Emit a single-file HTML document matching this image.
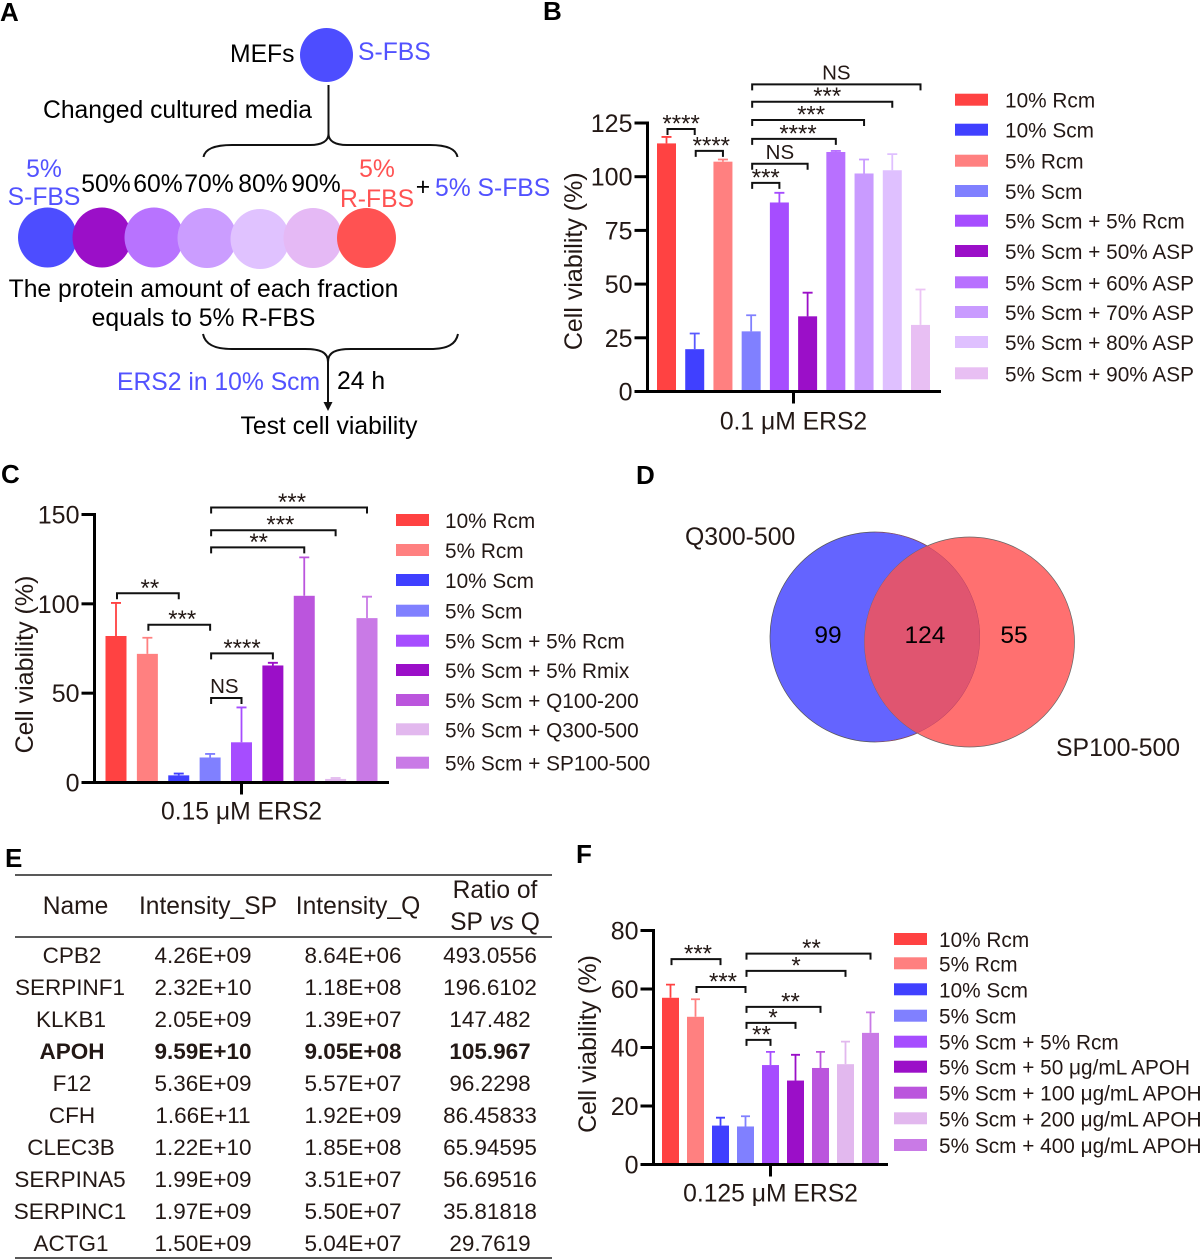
<!DOCTYPE html>
<html lang="en"><head><meta charset="utf-8"><title>Cell viability figure</title>
<style>
html,body{margin:0;padding:0;background:#fff}
svg{display:block}
text{font-family:"Liberation Sans",Arial,sans-serif;fill:#000}
.t{fill:#231815}
.panel{font-size:26px;font-weight:bold}
.tb{font-size:22.5px;text-anchor:middle;fill:#231815}
.th{font-size:24.6px;text-anchor:middle;fill:#231815}
.a{font-size:24.7px}
.bl{fill:#5252ff}
.rd{fill:#ff5252}
</style></head>
<body>
<svg id="fig" xmlns="http://www.w3.org/2000/svg" width="1200" height="1259" viewBox="0 0 1200 1259">
<rect width="1200" height="1259" fill="#fff"/>
<g>
<text class="panel" x="0" y="21">A</text>
<text class="panel" x="543" y="20">B</text>
<text class="panel" x="1" y="483">C</text>
<text class="panel" x="636" y="484">D</text>
<text class="panel" x="5" y="867">E</text>
<text class="panel" x="576" y="863">F</text>
</g>

<g id="panel-a">
<text class="a" x="230" y="62">MEFs</text>
<ellipse cx="326.5" cy="55" rx="26.500" ry="27" fill="#4d4dff"/>
<text class="a bl" x="358" y="60">S-FBS</text>
<text class="a" x="43" y="118">Changed cultured media</text>
<path d="M328.500 85V134C328.500 141 322 145 310 145H232C214 145 205 149 203.500 157M328.500 134C328.500 141 335 145 347 145H430C447 145 456 149 457.500 157" fill="none" stroke="#111" stroke-width="2"/>
<text class="a bl" x="44" y="177" text-anchor="middle">5%</text>
<text class="a bl" x="44" y="205" text-anchor="middle">S-FBS</text>
<text class="a" x="106" y="192" text-anchor="middle">50%</text>
<text class="a" x="158" y="192" text-anchor="middle">60%</text>
<text class="a" x="209" y="192" text-anchor="middle">70%</text>
<text class="a" x="263" y="192" text-anchor="middle">80%</text>
<text class="a" x="316" y="192" text-anchor="middle">90%</text>
<text class="a rd" x="377" y="177" text-anchor="middle">5%</text>
<text class="a rd" x="377" y="207" text-anchor="middle">R-FBS</text>
<text class="a" x="423" y="195" text-anchor="middle">+</text>
<text class="a bl" x="435" y="196">5% S-FBS</text>
<ellipse cx="47.5" cy="237.5" rx="29.5" ry="30" fill="#4d4dff"/>
<ellipse cx="102" cy="237.5" rx="29.5" ry="30" fill="#9b0fc8"/>
<ellipse cx="154" cy="237.5" rx="29.5" ry="30" fill="#b873ff"/>
<ellipse cx="207" cy="238" rx="29.5" ry="30" fill="#cb9dff"/>
<ellipse cx="260" cy="239" rx="29.5" ry="30" fill="#e0c2ff"/>
<ellipse cx="313" cy="238" rx="29.5" ry="30" fill="#e5b9f5"/>
<ellipse cx="366.5" cy="238" rx="29.5" ry="30" fill="#ff5252"/>
<text class="a" x="203.500" y="297" text-anchor="middle">The protein amount of each fraction</text>
<text class="a" x="203.500" y="326" text-anchor="middle">equals to 5% R-FBS</text>
<path d="M203 334C205 344 214 349 232 349H305C320 349 328 352 328 362M458 334C456 344 448 349 430 349H351C336 349 328 352 328 362V403" fill="none" stroke="#111" stroke-width="2"/>
<path d="M323.500 402H332.500L328 411Z" fill="#111"/>
<text class="a bl" x="117" y="390">ERS2 in 10% Scm</text>
<text class="a" x="337" y="389">24 h</text>
<text class="a" x="329" y="434" text-anchor="middle">Test cell viability</text>
</g>

<g id="panel-d">
<defs><clipPath id="venn-clip"><circle cx="875" cy="637" r="105"/></clipPath></defs>
<circle cx="875" cy="637" r="105" fill="#6464ff" stroke="#555" stroke-width="0.7"/>
<circle cx="969.500" cy="642" r="105" fill="#ff7070" stroke="#666" stroke-width="0.7"/>
<circle cx="969.500" cy="642" r="105" fill="#e05570" clip-path="url(#venn-clip)"/>
<path d="M875 532A105 105 0 0 1 875 742" transform="translate(0 0)" fill="none" stroke="#b04060" stroke-width="0.7" clip-path="url(#venn-clip)"/>
<text x="685" y="545" font-size="24.800" class="t">Q300-500</text>
<text x="1056" y="756" font-size="24.800" class="t">SP100-500</text>
<text x="828" y="643" font-size="24.500" text-anchor="middle" fill="#000">99</text>
<text x="925" y="643" font-size="24.500" text-anchor="middle" fill="#000">124</text>
<text x="1014" y="643" font-size="24.500" text-anchor="middle" fill="#000">55</text>
</g>

<g id="panel-e">
<line x1="15" x2="552" y1="875" y2="875" stroke="#222" stroke-width="1.500"/>
<line x1="15" x2="552" y1="937" y2="937" stroke="#222" stroke-width="1.500"/>
<line x1="15" x2="552" y1="1258" y2="1258" stroke="#222" stroke-width="1.500"/>
<g>
<text class="th" x="75.500" y="914">Name</text>
<text class="th" x="208" y="914">Intensity_SP</text>
<text class="th" x="358" y="914">Intensity_Q</text>
<text class="th" x="495" y="898">Ratio of</text>
<text class="th" x="495" y="930">SP <tspan font-style="italic">vs</tspan> Q</text>
</g>
<g><text class="tb" x="72" y="963">CPB2</text><text class="tb" x="203" y="963">4.26E+09</text><text class="tb" x="353" y="963">8.64E+06</text><text class="tb" x="490" y="963">493.0556</text></g>
<g><text class="tb" x="70" y="995">SERPINF1</text><text class="tb" x="203" y="995">2.32E+10</text><text class="tb" x="353" y="995">1.18E+08</text><text class="tb" x="490" y="995">196.6102</text></g>
<g><text class="tb" x="71" y="1027">KLKB1</text><text class="tb" x="203" y="1027">2.05E+09</text><text class="tb" x="353" y="1027">1.39E+07</text><text class="tb" x="490" y="1027">147.482</text></g>
<g font-weight="bold"><text class="tb" x="72" y="1059">APOH</text><text class="tb" x="203" y="1059">9.59E+10</text><text class="tb" x="353" y="1059">9.05E+08</text><text class="tb" x="490" y="1059">105.967</text></g>
<g><text class="tb" x="72" y="1091">F12</text><text class="tb" x="203" y="1091">5.36E+09</text><text class="tb" x="353" y="1091">5.57E+07</text><text class="tb" x="490" y="1091">96.2298</text></g>
<g><text class="tb" x="72" y="1123">CFH</text><text class="tb" x="203" y="1123">1.66E+11</text><text class="tb" x="353" y="1123">1.92E+09</text><text class="tb" x="490" y="1123">86.45833</text></g>
<g><text class="tb" x="71" y="1155">CLEC3B</text><text class="tb" x="203" y="1155">1.22E+10</text><text class="tb" x="353" y="1155">1.85E+08</text><text class="tb" x="490" y="1155">65.94595</text></g>
<g><text class="tb" x="70" y="1187">SERPINA5</text><text class="tb" x="203" y="1187">1.99E+09</text><text class="tb" x="353" y="1187">3.51E+07</text><text class="tb" x="490" y="1187">56.69516</text></g>
<g><text class="tb" x="70" y="1219">SERPINC1</text><text class="tb" x="203" y="1219">1.97E+09</text><text class="tb" x="353" y="1219">5.50E+07</text><text class="tb" x="490" y="1219">35.81818</text></g>
<g><text class="tb" x="71" y="1251">ACTG1</text><text class="tb" x="203" y="1251">1.50E+09</text><text class="tb" x="353" y="1251">5.04E+07</text><text class="tb" x="490" y="1251">29.7619</text></g>
</g>
</svg>

<script>
// ---- Panel B data ----
const bLabels = ['10% Rcm','10% Scm','5% Rcm','5% Scm','5% Scm + 5% Rcm','5% Scm + 50% ASP','5% Scm + 60% ASP','5% Scm + 70% ASP','5% Scm + 80% ASP','5% Scm + 90% ASP'];
const bValues = [115.5,19.7,107,28,88,35,111.5,101.5,103,31];
const bErrorTops = [118.5,27,108,35.5,92.5,46,112,108,110.5,47.5];
const bTicks = [0,25,50,75,100,125];
const bBracketFrom = [0,1,3,3,3,3,3,3];
const bBracketTo = [1,2,4,5,6,7,8,9];
const bBracketLevels = [122.2,112,97.1,106,117.6,126.4,134.9,143];
const bBracketText = ['****','****','***','NS','****','***','***','NS'];
// ---- Panel C data ----
const cLabels = ['10% Rcm','5% Rcm','10% Scm','5% Scm','5% Scm + 5% Rcm','5% Scm + 5% Rmix','5% Scm + Q100-200','5% Scm + Q300-500','5% Scm + SP100-500'];
const cValues = [82,72,4,14,22.5,65.5,104.5,2,92];
const cErrorTops = [100.5,81,5,16,42,67,126,2.5,104];
const cTicks = [0,50,100,150];
const cBracketFrom = [0,1,3,3,3,3,3];
const cBracketTo = [2,3,5,4,6,7,8];
const cBracketLevels = [105.9,88.3,72.3,47.3,131.6,141.2,153.9];
const cBracketText = ['**','***','****','NS','**','***','***'];
// ---- Panel F data ----
const fLabels = ['10% Rcm','5% Rcm','10% Scm','5% Scm','5% Scm + 5% Rcm','5% Scm + 50 μg/mL APOH','5% Scm + 100 μg/mL APOH','5% Scm + 200 μg/mL APOH','5% Scm + 400 μg/mL APOH'];
const fValues = [57,50.5,13.3,13,34,28.7,33,34.3,45];
const fErrorTops = [61.5,56.5,16,16.5,38.5,37.5,38.5,42,52];
const fTicks = [0,20,40,60,80];
const fBracketFrom = [0,1,3,3,3,3,3];
const fBracketTo = [2,3,8,7,6,5,4];
const fBracketLevels = [70.2,60.7,72.1,66.2,53.9,48.4,42.6];
const fBracketText = ['***','***','**','*','**','*','**'];

const NS='http://www.w3.org/2000/svg';
const fig=document.getElementById('fig');
function make(parent,tag,attrs,txt){
  const e=document.createElementNS(NS,tag);
  for(const k in attrs){e.setAttribute(k,attrs[k]);}
  if(txt!==undefined){e.textContent=txt;}
  parent.appendChild(e);
  return e;
}
function slug(s){return String(s).toLowerCase().replace(/[^a-z0-9]+/g,'-').replace(/^-|-$/g,'');}

function drawChart(c){
  const root=make(fig,'g',{});
  
  
  const maxTick=c.ticks[c.ticks.length-1];
  const yScale=v=>c.y0-(c.y0-c.yTop)*v/maxTick;
  const n=c.values.length;
  const xScale=i=>c.x0+(c.x1-c.x0)*i/(n-1);
  // bars + error bars
  c.values.forEach((v,i)=>{
    const xc=xScale(i);
    const err=make(root,'path',{d:`M${xc} ${yScale(v)}V${yScale(c.tops[i])}M${xc-c.cap} ${yScale(c.tops[i])}H${xc+c.cap}`,fill:'none',stroke:c.errColors[i],'stroke-width':1.8});
    
    
    const bar=make(root,'rect',{x:xc-c.bw/2,y:yScale(v),width:c.bw,height:c.y0-yScale(v),fill:c.colors[i]});
    
    
  });
  // axes
  const yAxis=make(root,'line',{x1:c.ax,x2:c.ax,y1:c.yTop-1.5,y2:c.y0+1.5,stroke:'#000','stroke-width':3});
  
  
  const xAxis=make(root,'line',{x1:c.ax-13,x2:c.axEnd,y1:c.y0,y2:c.y0,stroke:'#000','stroke-width':3});
  
  
  const xTick=make(root,'line',{x1:xScale((n-1)/2),x2:xScale((n-1)/2),y1:c.y0,y2:c.y0+12,stroke:'#000','stroke-width':3});
  
  
  c.ticks.forEach(t=>{
    const tk=make(root,'line',{x1:c.ax-13,x2:c.ax,y1:yScale(t),y2:yScale(t),stroke:'#000','stroke-width':3});
    
    
    const lb=make(root,'text',{x:c.ax-15,y:yScale(t)+9,'text-anchor':'end','font-size':25,class:'t'},t);
    
    
  });
  const yt=make(root,'text',{transform:`translate(${c.ytX} ${(c.y0+c.yTop)/2+c.ytDy}) rotate(-90)`,'text-anchor':'middle','font-size':25,class:'t'},'Cell viability (%)');
  
  
  const xt=make(root,'text',{x:xScale((n-1)/2),y:c.y0+c.xtDy,'text-anchor':'middle','font-size':24.7,class:'t'},c.xTitle);
  
  
  // significance brackets
  c.bFrom.forEach((f,i)=>{
    const a=xScale(f)+1,b=xScale(c.bTo[i]),y=yScale(c.bLevels[i]);
    const br=make(root,'path',{d:`M${a} ${y+6}V${y}H${b}V${y+6}`,fill:'none',stroke:'#111','stroke-width':2});
    
    
    const isNS=c.bText[i]==='NS';
    const tx=make(root,'text',{x:(a+b)/2+c.labelDx[i],y:isNS?y-5:y+2.5,'text-anchor':'middle','font-size':isNS?20.5:24,class:'t'},c.bText[i]);
    
    
  });
  // legend
  c.labels.forEach((l,i)=>{
    const ly=c.legRows[i];
    const sw=make(root,'rect',{x:c.legX,y:ly-6,width:33,height:12,fill:c.colors[i]});
    
    
    const tx=make(root,'text',{x:c.legTx,y:ly+8,'font-size':20.8,class:'t'},l);
    
    
  });
}

const R='#ff4242',B='#4040ff',LR='#ff8080',LB='#8080ff',P='#a64dff',DP='#9b0fc8';
drawChart({name:'viability-b',labels:bLabels,values:bValues,tops:bErrorTops,ticks:bTicks,bFrom:bBracketFrom,bTo:bBracketTo,bLevels:bBracketLevels,bText:bBracketText,
  labelDx:[0,2,0,0,4,3,5,0],
  y0:391.5,yTop:123,x0:666.5,x1:920.5,bw:19,cap:5,ax:647.5,axEnd:941,ytX:582,ytDy:4,xtDy:38,xTitle:'0.1 μM ERS2',
  colors:[R,B,LR,LB,P,DP,'#b870ff','#c99bff','#dfc0ff','#e8bff3'],
  errColors:[R,'#5a5aff',LR,LB,P,DP,'#b870ff','#c99bff','#dfc0ff','#ecc4f5'],
  legX:955,legTx:1005,legRows:[99.7,129.7,160.7,191,220.7,251,282.3,312,342,373.3]});
drawChart({name:'viability-c',labels:cLabels,values:cValues,tops:cErrorTops,ticks:cTicks,bFrom:cBracketFrom,bTo:cBracketTo,bLevels:cBracketLevels,bText:cBracketText,
  labelDx:[2,3,0,-2,1,7,3],
  y0:782.5,yTop:514.500,x0:116,x1:367,bw:21,cap:5,ax:94.5,axEnd:389,ytX:33,ytDy:16,xtDy:37,xTitle:'0.15 μM ERS2',
  colors:[R,LR,B,LB,P,DP,'#bb55dd','#e2b8ee','#c97ae6'],
  errColors:[R,LR,B,LB,P,DP,'#bb55dd','#e2b8ee','#c97ae6'],
  legX:396,legTx:445,legRows:[520,550,580,610.7,640.7,670,700,729.3,762.7]});
drawChart({name:'viability-f',labels:fLabels,values:fValues,tops:fErrorTops,ticks:fTicks,bFrom:fBracketFrom,bTo:fBracketTo,bLevels:fBracketLevels,bText:fBracketText,
  labelDx:[2,2,3,0,7,2,3],
  y0:1164.5,yTop:930.500,x0:670.5,x1:870.5,bw:17,cap:4.500,ax:653.5,axEnd:888,ytX:596,ytDy:-3.5,xtDy:37,xTitle:'0.125 μM ERS2',
  colors:[R,LR,B,LB,P,DP,'#bb55dd','#e2b8ee','#c97ae6'],
  errColors:[R,LR,B,LB,P,DP,'#bb55dd','#e2b8ee','#c97ae6'],
  legX:894,legTx:939,legRows:[939,963.3,989.3,1015.7,1041.7,1066.7,1092.7,1118.3,1145]});
</script>
</body></html>
